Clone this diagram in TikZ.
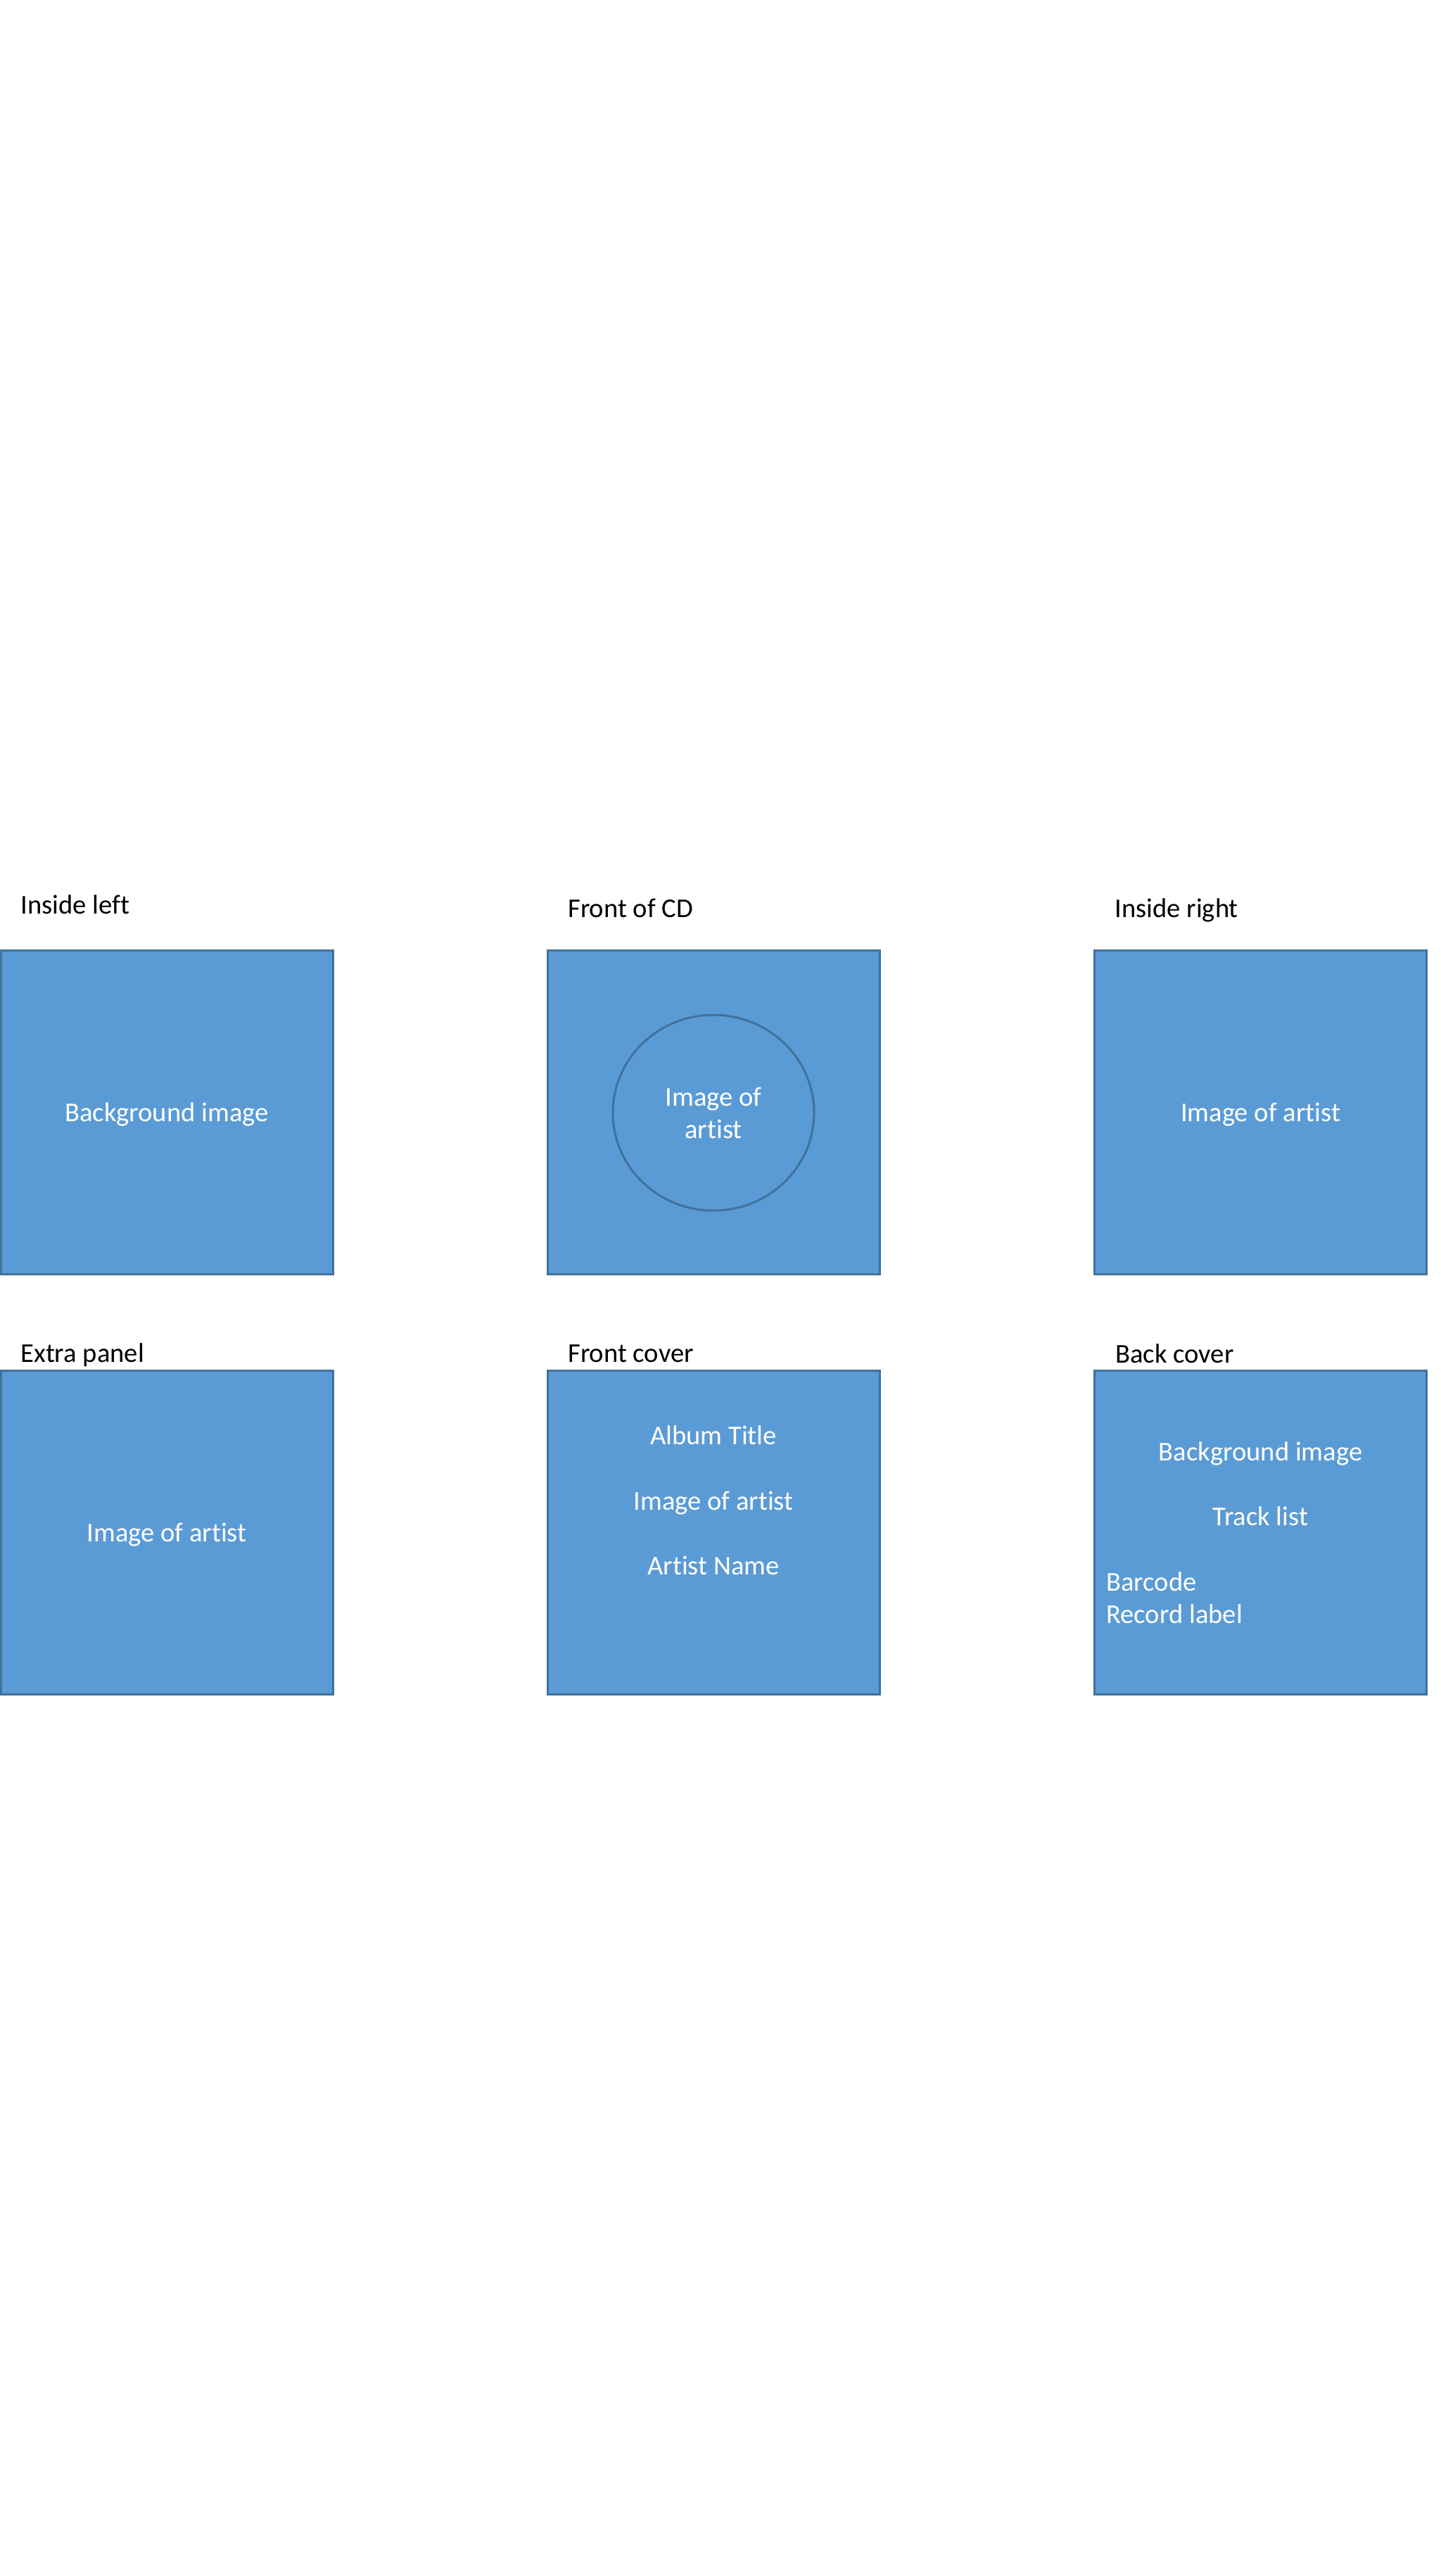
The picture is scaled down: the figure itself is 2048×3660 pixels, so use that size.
\documentclass[tikz,border=0pt]{standalone}
\usepackage{fontspec}
\setmainfont{Carlito}[Ligatures=NoCommon]
\usetikzlibrary{shapes.geometric}
\definecolor{panelfill}{HTML}{5B9BD5}
\definecolor{paneldraw}{HTML}{41719C}
\begin{document}
\begin{tikzpicture}[x=0.5pt,y=-0.5pt,
  panel/.style={draw=paneldraw, fill=panelfill, line width=1.5pt,
    minimum width=236pt, minimum height=230pt, inner sep=0pt, outer sep=0pt},
  disc/.style={ellipse, draw=paneldraw, line width=1.5pt,
    minimum width=143pt, minimum height=139pt, inner sep=0pt},
  caption/.style={anchor=base west, inner sep=0pt, text=black,
    font=\fontsize{19.3}{23}\selectfont},
  intext/.style={anchor=base, inner sep=0pt, text=white,
    font=\fontsize{19.3}{23}\selectfont},
  leftin/.style={anchor=base west, inner sep=0pt, text=white,
    font=\fontsize{19.3}{23}\selectfont}]
\useasboundingbox (0,0) rectangle (2048,3660);
\fill[white] (0,0) rectangle (2048,3660);

% top row
\node[panel] (il) at (237,1580) {};
\node[panel] (fcd) at (1014,1580) {};
\node[panel] (ir) at (1791.5,1580) {};
% bottom row
\node[panel] (ep) at (237,2177) {};
\node[panel] (fc) at (1014,2177) {};
\node[panel] (bc) at (1791.5,2177) {};

% captions
\node[caption] (cil) at (29,1298.5) {Inside left};
\node[caption] (cfcd) at (807,1303.5) {Front of CD};
\node[caption] (cir) at (1584,1303.5) {Inside right};
\node[caption] (cep) at (29,1935) {Extra panel};
\node[caption] (cfc) at (807,1935) {Front cover};
\node[caption] (cbc) at (1585,1936) {Back cover};

% inside left
\node[intext] (t1) at (237,1593) {Background image};
% front of CD
\node[disc] (cd) at (1014,1581) {};
\node[intext] (t2) at (1014,1571) {Image of};
\node[intext] (t3) at (1014,1617) {artist};
% inside right
\node[intext] (t4) at (1791.5,1593) {Image of artist};
% extra panel
\node[intext] (t5) at (237,2190) {Image of artist};
% front cover
\node[intext] (t6) at (1014,2052) {Album Title};
\node[intext] (t7) at (1014,2145) {Image of artist};
\node[intext] (t8) at (1014,2237) {Artist Name};
% back cover
\node[intext] (t9) at (1791.5,2075) {Background image};
\node[intext] (t10) at (1791.5,2167) {Track list};
\node[leftin] (t11) at (1572,2260) {Barcode};
\node[leftin] (t12) at (1572,2306) {Record label};
\end{tikzpicture}
\end{document}
